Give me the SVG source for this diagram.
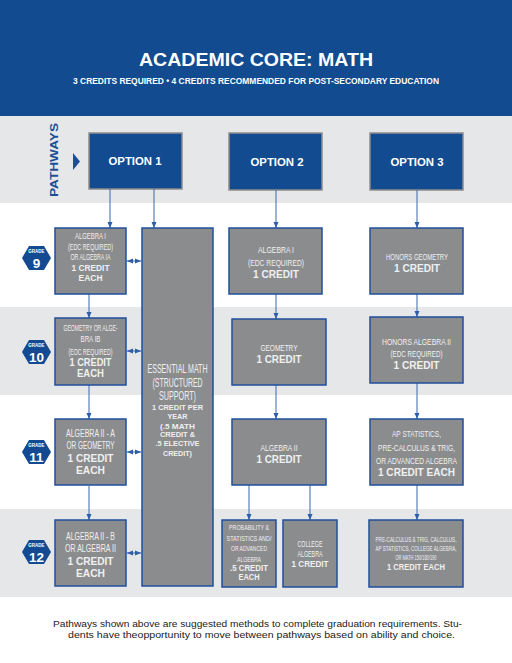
<svg xmlns="http://www.w3.org/2000/svg" width="512" height="663" viewBox="0 0 512 663">
<style>
.band{fill:#e6e7e8}
.opt{fill:#124b8f;stroke:#8d8d8d;stroke-width:1.5}
.box{fill:#8b8c8e;stroke:#1f4f9c;stroke-width:1.5}
.hex{fill:#144a92}
text{font-family:"Liberation Sans",Arial,sans-serif;text-anchor:middle}
.t{fill:#f0f0f0}
.b{font-weight:bold}
.w{fill:#ffffff;font-weight:bold}
.conn{stroke:#3a66ad;stroke-width:1;fill:none}
.arr{marker-end:url(#ah)}
.dbl{marker-start:url(#ah);marker-end:url(#ah)}
</style>
<defs>
<marker id="ah" markerUnits="userSpaceOnUse" markerWidth="6" markerHeight="6" viewBox="0 0 6 6" refX="6" refY="3" orient="auto-start-reverse">
<path d="M0,0.5 L6,3 L0,5.5 Z" fill="#2f5ea8"/>
</marker>
</defs>
<rect width="512" height="663" fill="#ffffff"/>
<rect x="0" y="0" width="512" height="116" fill="#124b8f"/>
<rect class="band" x="0" y="116" width="512" height="87"/>
<rect class="band" x="0" y="307" width="512" height="88"/>
<rect class="band" x="0" y="509" width="512" height="88"/>
<text class="w" x="256" y="66" font-size="18" textLength="234" lengthAdjust="spacingAndGlyphs">ACADEMIC CORE: MATH</text>
<text class="w" x="256" y="84" font-size="8.5" textLength="366" lengthAdjust="spacingAndGlyphs">3 CREDITS REQUIRED  •  4 CREDITS RECOMMENDED FOR POST-SECONDARY EDUCATION</text>
<text class="b" fill="#1c4f96" font-size="11" transform="translate(58,160) rotate(-90)" textLength="74" lengthAdjust="spacingAndGlyphs">PATHWAYS</text>
<path d="M73,153 L80,161.5 L73,170 Z" fill="#1c4f96"/>
<g id="option1"><rect class="opt" x="89" y="133" width="93" height="56"/><text class="w" x="135" y="165" font-size="11" textLength="53" lengthAdjust="spacingAndGlyphs">OPTION 1</text></g>
<g id="option2"><rect class="opt" x="229" y="133" width="93" height="57"/><text class="w" x="277" y="165.5" font-size="11" textLength="53" lengthAdjust="spacingAndGlyphs">OPTION 2</text></g>
<g id="option3"><rect class="opt" x="370" y="133" width="93" height="57"/><text class="w" x="417" y="165.5" font-size="11" textLength="53" lengthAdjust="spacingAndGlyphs">OPTION 3</text></g>
<g id="grade9"><path class="hex" d="M22,258 L29,246 L44,246 L51,258 L44,270 L29,270 Z"/><text class="w" x="36.5" y="253" font-size="4.5">GRADE</text><text class="w" x="36.5" y="268" font-size="13.5">9</text></g>
<g id="grade10"><path class="hex" d="M22,352 L29,340 L44,340 L51,352 L44,364 L29,364 Z"/><text class="w" x="36.5" y="347" font-size="4.5">GRADE</text><text class="w" x="36.5" y="362" font-size="13.5">10</text></g>
<g id="grade11"><path class="hex" d="M22,452 L29,440 L44,440 L51,452 L44,464 L29,464 Z"/><text class="w" x="36.5" y="447" font-size="4.5">GRADE</text><text class="w" x="36.5" y="462" font-size="13.5">11</text></g>
<g id="grade12"><path class="hex" d="M22,552 L29,540 L44,540 L51,552 L44,564 L29,564 Z"/><text class="w" x="36.5" y="547" font-size="4.5">GRADE</text><text class="w" x="36.5" y="562" font-size="13.5">12</text></g>
<g id="connectors">
<line class="conn arr" x1="110" y1="189" x2="110" y2="228"/>
<line class="conn arr" x1="154" y1="189" x2="154" y2="228"/>
<line class="conn arr" x1="276" y1="190" x2="276" y2="228"/>
<line class="conn arr" x1="417" y1="190" x2="417" y2="228"/>
<line class="conn arr" x1="89" y1="294" x2="89" y2="318"/>
<line class="conn arr" x1="89" y1="385" x2="89" y2="419"/>
<line class="conn arr" x1="89" y1="486" x2="89" y2="520"/>
<line class="conn arr" x1="276" y1="294" x2="276" y2="319"/>
<line class="conn arr" x1="276" y1="385" x2="276" y2="419"/>
<line class="conn arr" x1="249" y1="485" x2="249" y2="520"/>
<line class="conn arr" x1="310" y1="485" x2="310" y2="520"/>
<line class="conn arr" x1="417" y1="294" x2="417" y2="317"/>
<line class="conn arr" x1="417" y1="383" x2="417" y2="419"/>
<line class="conn arr" x1="417" y1="485" x2="417" y2="520"/>
<line class="conn dbl" x1="127" y1="261" x2="141" y2="261"/>
<line class="conn dbl" x1="127" y1="351" x2="141" y2="351"/>
<line class="conn dbl" x1="127" y1="452" x2="141" y2="452"/>
<line class="conn dbl" x1="127" y1="553" x2="141" y2="553"/>
</g>
<g id="essential"><rect class="box" x="142" y="228" width="71" height="358"/>
<text class="t" x="177.5" font-size="12"><tspan x="177.5" y="373" textLength="60" lengthAdjust="spacingAndGlyphs">ESSENTIAL MATH</tspan><tspan x="177.5" y="386.5" textLength="50" lengthAdjust="spacingAndGlyphs">(STRUCTURED</tspan><tspan x="177.5" y="400" textLength="37" lengthAdjust="spacingAndGlyphs">SUPPORT)</tspan></text>
<text class="t b" x="177.5" font-size="8"><tspan x="177.5" y="410" textLength="51" lengthAdjust="spacingAndGlyphs">1 CREDIT PER</tspan><tspan x="177.5" y="419" textLength="20" lengthAdjust="spacingAndGlyphs">YEAR</tspan><tspan x="177.5" y="428.5" textLength="35" lengthAdjust="spacingAndGlyphs">(.5 MATH</tspan><tspan x="177.5" y="437" textLength="35" lengthAdjust="spacingAndGlyphs">CREDIT &amp;</tspan><tspan x="177.5" y="446" textLength="44" lengthAdjust="spacingAndGlyphs">.5 ELECTIVE</tspan><tspan x="177.5" y="455.5" textLength="29" lengthAdjust="spacingAndGlyphs">CREDIT)</tspan></text></g>
<g id="c1g9"><rect class="box" x="55" y="228" width="71" height="66"/>
<text class="t" font-size="8.5"><tspan x="90.5" y="239" textLength="31" lengthAdjust="spacingAndGlyphs">ALGEBRA I</tspan><tspan x="90.5" y="249.5" textLength="45" lengthAdjust="spacingAndGlyphs">(EDC REQUIRED)</tspan><tspan x="90.5" y="260" textLength="40" lengthAdjust="spacingAndGlyphs">OR ALGEBRA IA</tspan></text>
<text class="t b" font-size="9.5"><tspan x="90.5" y="270.5" textLength="38" lengthAdjust="spacingAndGlyphs">1 CREDIT</tspan><tspan x="90.5" y="281" textLength="24" lengthAdjust="spacingAndGlyphs">EACH</tspan></text></g>
<g id="c1g10"><rect class="box" x="55" y="318" width="71" height="67"/>
<text class="t" font-size="8.5"><tspan x="90.5" y="331" textLength="54" lengthAdjust="spacingAndGlyphs">GEOMETRY OR ALGE-</tspan><tspan x="90.5" y="342" textLength="20" lengthAdjust="spacingAndGlyphs">BRA IB</tspan><tspan x="90.5" y="355" textLength="44" lengthAdjust="spacingAndGlyphs">(EOC REQUIRED)</tspan></text>
<text class="t b" font-size="10.5"><tspan x="90.5" y="366" textLength="42" lengthAdjust="spacingAndGlyphs">1 CREDIT</tspan><tspan x="90.5" y="377" textLength="27" lengthAdjust="spacingAndGlyphs">EACH</tspan></text></g>
<g id="c1g11"><rect class="box" x="55" y="419" width="71" height="66"/>
<text class="t" font-size="10"><tspan x="90.5" y="436.5" textLength="49" lengthAdjust="spacingAndGlyphs">ALGEBRA II - A</tspan><tspan x="90.5" y="448.5" textLength="48" lengthAdjust="spacingAndGlyphs">OR GEOMETRY</tspan></text>
<text class="t b" font-size="11"><tspan x="90.5" y="462" textLength="46" lengthAdjust="spacingAndGlyphs">1 CREDIT</tspan><tspan x="90.5" y="474" textLength="29" lengthAdjust="spacingAndGlyphs">EACH</tspan></text></g>
<g id="c1g12"><rect class="box" x="55" y="520" width="71" height="66"/>
<text class="t" font-size="10"><tspan x="90.5" y="539.5" textLength="49" lengthAdjust="spacingAndGlyphs">ALGEBRA II - B</tspan><tspan x="90.5" y="551.5" textLength="51" lengthAdjust="spacingAndGlyphs">OR ALGEBRA II</tspan></text>
<text class="t b" font-size="11"><tspan x="90.5" y="565" textLength="46" lengthAdjust="spacingAndGlyphs">1 CREDIT</tspan><tspan x="90.5" y="577" textLength="29" lengthAdjust="spacingAndGlyphs">EACH</tspan></text></g>
<g id="c2g9"><rect class="box" x="229" y="228" width="93" height="66"/>
<text class="t" font-size="9.5"><tspan x="276" y="252.5" textLength="36" lengthAdjust="spacingAndGlyphs">ALGEBRA I</tspan><tspan x="276" y="265.5" textLength="56" lengthAdjust="spacingAndGlyphs">(EDC REQUIRED)</tspan></text>
<text class="t b" font-size="10.5"><tspan x="276" y="278" textLength="46" lengthAdjust="spacingAndGlyphs">1 CREDIT</tspan></text></g>
<g id="c3g9"><rect class="box" x="370" y="228" width="93" height="66"/>
<text class="t" font-size="9.5"><tspan x="417" y="259.5" textLength="62" lengthAdjust="spacingAndGlyphs">HONORS GEOMETRY</tspan></text>
<text class="t b" font-size="10.5"><tspan x="417" y="272" textLength="46" lengthAdjust="spacingAndGlyphs">1 CREDIT</tspan></text></g>
<g id="c2g10"><rect class="box" x="232" y="319" width="94" height="66"/>
<text class="t" font-size="9.5"><tspan x="279" y="350.5" textLength="37" lengthAdjust="spacingAndGlyphs">GEOMETRY</tspan></text>
<text class="t b" font-size="10.5"><tspan x="279" y="363" textLength="45" lengthAdjust="spacingAndGlyphs">1 CREDIT</tspan></text></g>
<g id="c3g10"><rect class="box" x="370" y="317" width="93" height="66"/>
<text class="t" font-size="9.5"><tspan x="416.5" y="344.5" textLength="69" lengthAdjust="spacingAndGlyphs">HONORS ALGEBRA II</tspan><tspan x="416.5" y="356.5" textLength="52" lengthAdjust="spacingAndGlyphs">(EDC REQUIRED)</tspan></text>
<text class="t b" font-size="10.5"><tspan x="416.5" y="369" textLength="46" lengthAdjust="spacingAndGlyphs">1 CREDIT</tspan></text></g>
<g id="c2g11"><rect class="box" x="232" y="419" width="94" height="66"/>
<text class="t" font-size="9.5"><tspan x="279" y="450.5" textLength="37" lengthAdjust="spacingAndGlyphs">ALGEBRA II</tspan></text>
<text class="t b" font-size="10.5"><tspan x="279" y="463" textLength="45" lengthAdjust="spacingAndGlyphs">1 CREDIT</tspan></text></g>
<g id="c3g11"><rect class="box" x="370" y="419" width="93" height="66"/>
<text class="t" font-size="9.5"><tspan x="416.5" y="436.5" textLength="49" lengthAdjust="spacingAndGlyphs">AP STATISTICS,</tspan><tspan x="416.5" y="450.5" textLength="77" lengthAdjust="spacingAndGlyphs">PRE-CALCULUS &amp; TRIG,</tspan><tspan x="416.5" y="463.5" textLength="81" lengthAdjust="spacingAndGlyphs">OR ADVANCED ALGEBRA</tspan></text>
<text class="t b" font-size="10.5"><tspan x="416.5" y="476" textLength="77" lengthAdjust="spacingAndGlyphs">1 CREDIT EACH</tspan></text></g>
<g id="c2g12a"><rect class="box" x="222" y="520" width="54" height="67"/>
<text class="t" font-size="7.5"><tspan x="249" y="530" textLength="40" lengthAdjust="spacingAndGlyphs">PROBABILITY &amp;</tspan><tspan x="249" y="540.5" textLength="45" lengthAdjust="spacingAndGlyphs">STATISTICS AND/</tspan><tspan x="249" y="551" textLength="36" lengthAdjust="spacingAndGlyphs">OR ADVANCED</tspan><tspan x="249" y="562" textLength="24" lengthAdjust="spacingAndGlyphs">ALGEBRA</tspan></text>
<text class="t b" font-size="8.5"><tspan x="249" y="571" textLength="38" lengthAdjust="spacingAndGlyphs">.5 CREDIT</tspan><tspan x="249" y="580" textLength="21" lengthAdjust="spacingAndGlyphs">EACH</tspan></text></g>
<g id="c2g12b"><rect class="box" x="283" y="520" width="54" height="67"/>
<text class="t" font-size="9"><tspan x="310" y="546.5" textLength="25" lengthAdjust="spacingAndGlyphs">COLLEGE</tspan><tspan x="310" y="556.5" textLength="25" lengthAdjust="spacingAndGlyphs">ALGEBRA</tspan></text>
<text class="t b" font-size="9.5"><tspan x="310" y="566.5" textLength="37" lengthAdjust="spacingAndGlyphs">1 CREDIT</tspan></text></g>
<g id="c3g12"><rect class="box" x="369" y="520" width="94" height="67"/>
<text class="t" font-size="7"><tspan x="416" y="541.5" textLength="81" lengthAdjust="spacingAndGlyphs">PRE-CALCULUS &amp; TRIG, CALCULUS,</tspan><tspan x="416" y="550.5" textLength="81" lengthAdjust="spacingAndGlyphs">AP STATISTICS, COLLEGE ALGEBRA,</tspan><tspan x="416" y="559.5" textLength="41" lengthAdjust="spacingAndGlyphs">OR MATH 150/180/190</tspan></text>
<text class="t b" font-size="9"><tspan x="416" y="570" textLength="58" lengthAdjust="spacingAndGlyphs">1 CREDIT EACH</tspan></text></g>
<text fill="#222222" font-size="9.5"><tspan x="257.5" y="627" textLength="409" lengthAdjust="spacingAndGlyphs">Pathways shown above are suggested methods to complete graduation requirements. Stu-</tspan><tspan x="261.5" y="638" textLength="387" lengthAdjust="spacingAndGlyphs">dents have theopportunity to move between pathways based on ability and choice.</tspan></text>
</svg>
